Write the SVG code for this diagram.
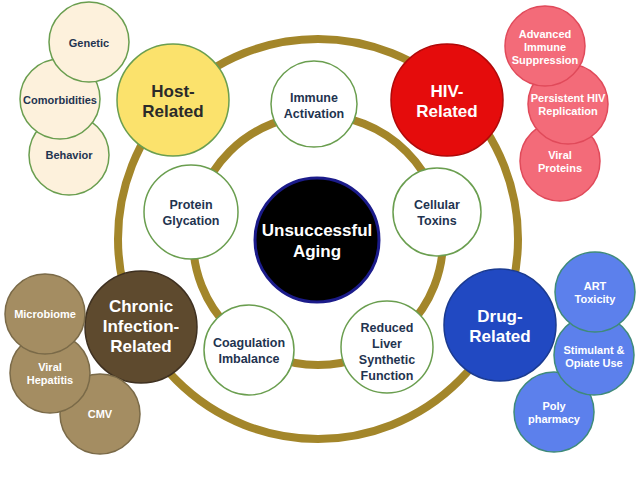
<svg xmlns="http://www.w3.org/2000/svg" width="638" height="478" viewBox="0 0 638 478">
<style>
text{font-family:"Liberation Sans",Arial,sans-serif;font-weight:bold;text-anchor:middle}
.ring{fill:none;stroke:#A3862A;stroke-width:8}
.w{fill:#fff;stroke:#6A9E4F;stroke-width:1.5}
.wt{fill:#1F3450;font-size:12.5px}
.y{fill:#FDF1DC;stroke:#6A9E4F;stroke-width:1.5}
.yt{fill:#1F3450;font-size:11px}
.p{fill:#F36B79;stroke:#E04A5A;stroke-width:1.5}
.b{fill:#5C80EC;stroke:#3F8A7A;stroke-width:1.5}
.t{fill:#A48D62;stroke:#7A6A48;stroke-width:1.5}
.st{fill:#fff;font-size:11px}
.big{font-size:17px}
</style>
<g id="connectors">
<circle class="ring" cx="318" cy="239" r="200"/>
<circle class="ring" cx="318" cy="240" r="125"/>
</g>
<g id="center"><circle cx="317" cy="240" r="62" fill="#000" stroke="#1B1B8A" stroke-width="3"/><text x="317" y="236" fill="#fff" font-size="17">Unsuccessful</text><text x="317" y="257" fill="#fff" font-size="17">Aging</text></g>
<g id="immune"><circle class="w" cx="314" cy="104" r="43"/><text class="wt" x="314" y="102">Immune</text><text class="wt" x="314" y="118">Activation</text></g>
<g id="cellular"><circle class="w" cx="437" cy="212" r="44"/><text class="wt" x="437" y="209">Cellular</text><text class="wt" x="437" y="225">Toxins</text></g>
<g id="liver"><circle class="w" cx="387" cy="347" r="46"/><text class="wt" x="387" y="332">Reduced</text><text class="wt" x="387" y="348">Liver</text><text class="wt" x="387" y="364">Synthetic</text><text class="wt" x="387" y="380">Function</text></g>
<g id="coag"><circle class="w" cx="249" cy="350" r="45"/><text class="wt" x="249" y="347">Coagulation</text><text class="wt" x="249" y="363">Imbalance</text></g>
<g id="glycation"><circle class="w" cx="191" cy="212" r="47"/><text class="wt" x="191" y="209">Protein</text><text class="wt" x="191" y="225">Glycation</text></g>
<g id="host"><circle cx="173" cy="100" r="56" fill="#FBE26C" stroke="#6A9E4F" stroke-width="1.5"/><text class="big" x="173" y="97" fill="#2A2A2A">Host-</text><text class="big" x="173" y="117" fill="#2A2A2A">Related</text></g>
<g id="hiv"><circle cx="447" cy="100" r="56" fill="#E50C0C" stroke="#B00808" stroke-width="1.5"/><text class="big" x="447" y="97" fill="#fff">HIV-</text><text class="big" x="447" y="117" fill="#fff">Related</text></g>
<g id="chronic"><circle cx="141" cy="327" r="56" fill="#5E4A2E" stroke="#3E3020" stroke-width="1.5"/><text class="big" x="141" y="312" fill="#fff">Chronic</text><text class="big" x="141" y="332" fill="#fff">Infection-</text><text class="big" x="141" y="352" fill="#fff">Related</text></g>
<g id="drug"><circle cx="500" cy="325" r="56" fill="#2149C2" stroke="#1A3A90" stroke-width="1.5"/><text class="big" x="500" y="322" fill="#fff">Drug-</text><text class="big" x="500" y="342" fill="#fff">Related</text></g>
<g id="behavior"><circle class="y" cx="69" cy="155" r="40"/><text class="yt" x="69" y="159">Behavior</text></g>
<g id="comorbidities"><circle class="y" cx="60" cy="99" r="40"/><text class="yt" x="60" y="104">Comorbidities</text></g>
<g id="genetic"><circle class="y" cx="89" cy="42" r="40"/><text class="yt" x="89" y="47">Genetic</text></g>
<g id="viralproteins"><circle class="p" cx="560" cy="161" r="40"/><text class="st" x="560" y="159">Viral</text><text class="st" x="560" y="172">Proteins</text></g>
<g id="persistent"><circle class="p" cx="568" cy="104" r="40"/><text class="st" x="568" y="102">Persistent HIV</text><text class="st" x="568" y="115">Replication</text></g>
<g id="advanced"><circle class="p" cx="545" cy="46" r="40"/><text class="st" x="545" y="38">Advanced</text><text class="st" x="545" y="51">Immune</text><text class="st" x="545" y="64">Suppression</text></g>
<g id="cmv"><circle class="t" cx="100" cy="414" r="40"/><text class="st" x="100" y="418">CMV</text></g>
<g id="hepatitis"><circle class="t" cx="50" cy="373" r="40"/><text class="st" x="50" y="371">Viral</text><text class="st" x="50" y="384">Hepatitis</text></g>
<g id="microbiome"><circle class="t" cx="45" cy="314" r="40"/><text class="st" x="45" y="318">Microbiome</text></g>
<g id="poly"><circle class="b" cx="554" cy="412" r="40"/><text class="st" x="554" y="410">Poly</text><text class="st" x="554" y="423">pharmacy</text></g>
<g id="stimulant"><circle class="b" cx="594" cy="355" r="40"/><text class="st" x="594" y="354">Stimulant &amp;</text><text class="st" x="594" y="367">Opiate Use</text></g>
<g id="art"><circle class="b" cx="595" cy="292" r="40"/><text class="st" x="595" y="290">ART</text><text class="st" x="595" y="303">Toxicity</text></g>
</svg>
